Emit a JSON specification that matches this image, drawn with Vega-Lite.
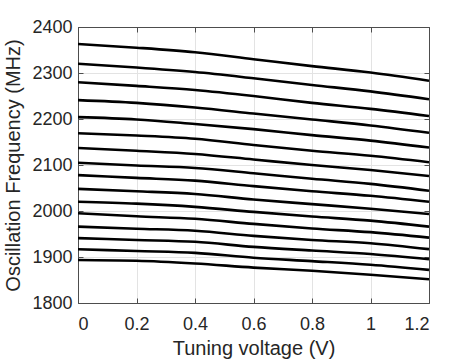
{
  "$schema": "https://vega.github.io/schema/vega-lite/v6.json",
  "autosize": {"type": "none"},
  "width": 351,
  "height": 276,
  "padding": {"left": 78, "top": 27, "right": 45, "bottom": 58},
  "background": "white",
  "config": {
    "view": {"stroke": "#4d4d4d", "strokeWidth": 1},
    "axis": {
      "labelFont": "Liberation Sans",
      "titleFont": "Liberation Sans",
      "labelFontSize": 18,
      "titleFontSize": 20,
      "labelColor": "#262626",
      "titleColor": "#262626",
      "titleFontWeight": "normal",
      "domainColor": "#4d4d4d",
      "tickColor": "#4d4d4d",
      "gridColor": "#e3e3e3",
      "gridWidth": 1
    }
  },
  "data": {
    "values": [
      {"v":0,"f":2363,"s":1},{"v":0.2,"f":2355,"s":1},{"v":0.4,"f":2345,"s":1},{"v":0.6,"f":2330,"s":1},{"v":0.8,"f":2315,"s":1},{"v":1.0,"f":2301,"s":1},{"v":1.2,"f":2283,"s":1},
      {"v":0,"f":2320,"s":2},{"v":0.2,"f":2312,"s":2},{"v":0.4,"f":2302,"s":2},{"v":0.6,"f":2288.5,"s":2},{"v":0.8,"f":2274,"s":2},{"v":1.0,"f":2260,"s":2},{"v":1.2,"f":2243,"s":2},
      {"v":0,"f":2280,"s":3},{"v":0.2,"f":2272,"s":3},{"v":0.4,"f":2263,"s":3},{"v":0.6,"f":2250,"s":3},{"v":0.8,"f":2235,"s":3},{"v":1.0,"f":2222,"s":3},{"v":1.2,"f":2206.5,"s":3},
      {"v":0,"f":2241,"s":4},{"v":0.2,"f":2235,"s":4},{"v":0.4,"f":2225,"s":4},{"v":0.6,"f":2212,"s":4},{"v":0.8,"f":2199,"s":4},{"v":1.0,"f":2186,"s":4},{"v":1.2,"f":2170,"s":4},
      {"v":0,"f":2204,"s":5},{"v":0.2,"f":2199,"s":5},{"v":0.4,"f":2189,"s":5},{"v":0.6,"f":2178,"s":5},{"v":0.8,"f":2165,"s":5},{"v":1.0,"f":2153,"s":5},{"v":1.2,"f":2138,"s":5},
      {"v":0,"f":2169,"s":6},{"v":0.2,"f":2164,"s":6},{"v":0.4,"f":2157,"s":6},{"v":0.6,"f":2143.5,"s":6},{"v":0.8,"f":2131,"s":6},{"v":1.0,"f":2120,"s":6},{"v":1.2,"f":2106,"s":6},
      {"v":0,"f":2137,"s":7},{"v":0.2,"f":2131,"s":7},{"v":0.4,"f":2124,"s":7},{"v":0.6,"f":2112,"s":7},{"v":0.8,"f":2100,"s":7},{"v":1.0,"f":2089,"s":7},{"v":1.2,"f":2076,"s":7},
      {"v":0,"f":2105,"s":8},{"v":0.2,"f":2099,"s":8},{"v":0.4,"f":2093.5,"s":8},{"v":0.6,"f":2082,"s":8},{"v":0.8,"f":2070,"s":8},{"v":1.0,"f":2059,"s":8},{"v":1.2,"f":2044,"s":8},
      {"v":0,"f":2078,"s":9},{"v":0.2,"f":2072,"s":9},{"v":0.4,"f":2066,"s":9},{"v":0.6,"f":2054,"s":9},{"v":0.8,"f":2043,"s":9},{"v":1.0,"f":2033,"s":9},{"v":1.2,"f":2020,"s":9},
      {"v":0,"f":2048,"s":10},{"v":0.2,"f":2043,"s":10},{"v":0.4,"f":2037,"s":10},{"v":0.6,"f":2025,"s":10},{"v":0.8,"f":2015,"s":10},{"v":1.0,"f":2005,"s":10},{"v":1.2,"f":1993.5,"s":10},
      {"v":0,"f":2020,"s":11},{"v":0.2,"f":2016,"s":11},{"v":0.4,"f":2009,"s":11},{"v":0.6,"f":1998,"s":11},{"v":0.8,"f":1988,"s":11},{"v":1.0,"f":1979,"s":11},{"v":1.2,"f":1966,"s":11},
      {"v":0,"f":1995,"s":12},{"v":0.2,"f":1988.5,"s":12},{"v":0.4,"f":1983,"s":12},{"v":0.6,"f":1972,"s":12},{"v":0.8,"f":1962,"s":12},{"v":1.0,"f":1954,"s":12},{"v":1.2,"f":1942,"s":12},
      {"v":0,"f":1966,"s":13},{"v":0.2,"f":1961.5,"s":13},{"v":0.4,"f":1957,"s":13},{"v":0.6,"f":1946,"s":13},{"v":0.8,"f":1937,"s":13},{"v":1.0,"f":1930,"s":13},{"v":1.2,"f":1917,"s":13},
      {"v":0,"f":1941,"s":14},{"v":0.2,"f":1937,"s":14},{"v":0.4,"f":1933,"s":14},{"v":0.6,"f":1922,"s":14},{"v":0.8,"f":1914,"s":14},{"v":1.0,"f":1906.5,"s":14},{"v":1.2,"f":1895,"s":14},
      {"v":0,"f":1917,"s":15},{"v":0.2,"f":1913,"s":15},{"v":0.4,"f":1909,"s":15},{"v":0.6,"f":1898.5,"s":15},{"v":0.8,"f":1891,"s":15},{"v":1.0,"f":1883,"s":15},{"v":1.2,"f":1872,"s":15},
      {"v":0,"f":1893.5,"s":16},{"v":0.2,"f":1892,"s":16},{"v":0.4,"f":1886,"s":16},{"v":0.6,"f":1877,"s":16},{"v":0.8,"f":1870,"s":16},{"v":1.0,"f":1861.5,"s":16},{"v":1.2,"f":1851.5,"s":16}
    ]
  },
  "layer": [
    {
      "mark": {"type": "line", "color": "black", "strokeWidth": 2.6, "interpolate": "monotone", "clip": true},
      "encoding": {
        "x": {"field": "v", "type": "quantitative",
              "scale": {"domain": [0, 1.2], "nice": false, "zero": false},
              "axis": {"title": "Tuning voltage (V)", "values": [0, 0.2, 0.4, 0.6, 0.8, 1, 1.2], "format": "~g",
                       "tickSize": -5, "labelPadding": 17, "titlePadding": 5, "grid": true}},
        "y": {"field": "f", "type": "quantitative",
              "scale": {"domain": [1800, 2400], "nice": false, "zero": false},
              "axis": {"title": "Oscillation Frequency (MHz)", "values": [1800, 1900, 2000, 2100, 2200, 2300, 2400], "format": "d",
                       "tickSize": -5, "labelPadding": 11, "titlePadding": 8, "grid": true}},
        "detail": {"field": "s", "type": "nominal"}
      }
    },
    {
      "mark": {"type": "line", "opacity": 0},
      "encoding": {
        "x": {"field": "v", "type": "quantitative",
              "scale": {"domain": [0, 1.2], "nice": false, "zero": false},
              "axis": {"orient": "top", "title": null, "labels": false, "values": [0, 0.2, 0.4, 0.6, 0.8, 1, 1.2], "tickSize": -5, "grid": false}},
        "y": {"field": "f", "type": "quantitative",
              "scale": {"domain": [1800, 2400], "nice": false, "zero": false},
              "axis": {"orient": "right", "title": null, "labels": false, "values": [1800, 1900, 2000, 2100, 2200, 2300, 2400], "tickSize": -5, "grid": false}},
        "detail": {"field": "s", "type": "nominal"}
      }
    }
  ],
  "resolve": {"axis": {"x": "independent", "y": "independent"}}
}
